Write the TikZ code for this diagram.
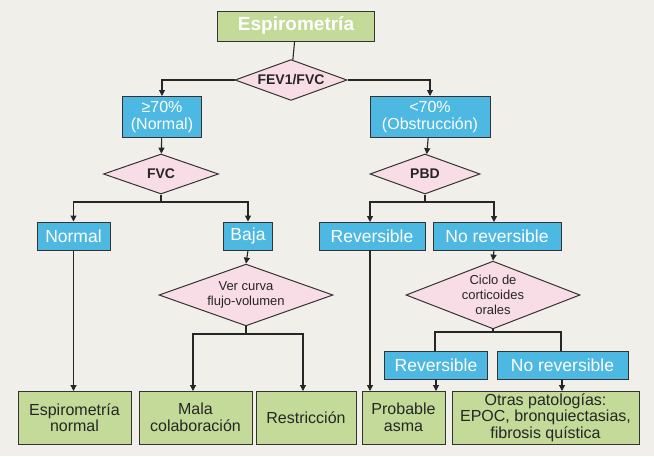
\documentclass[tikz,border=0pt]{standalone}
\usepackage{fontspec}
\setmainfont{Liberation Sans}
\usetikzlibrary{shapes.geometric,arrows.meta}
\definecolor{bg}{HTML}{F1EFEA}
\definecolor{gr}{HTML}{C3DA98}
\definecolor{bl}{HTML}{4DB9E3}
\definecolor{pk}{HTML}{F8DCE6}
\begin{document}
\begin{tikzpicture}[x=1pt,y=-1pt,
  box/.style={draw=black!80,line width=1pt,inner sep=0pt,align=center},
  gbox/.style={box,fill=gr,text=black!85,font=\fontsize{16}{16.5}\selectfont},
  bbox/.style={box,fill=bl,text=white,font=\fontsize{17.5}{18}\selectfont},
  dia/.style={diamond,aspect=2.2,draw=black!80,line width=1pt,fill=pk,inner sep=0pt,align=center,text=black!85},
  con/.style={draw=black!85,line width=1.1pt},
  arr/.style={con,-{Triangle[length=6pt,width=6pt]}}]
\fill[bg] (0,0) rectangle (654,456);
\useasboundingbox (0,0) rectangle (654,456);
\node[box,fill=gr,text=white,font=\bfseries\fontsize{19}{19}\selectfont,minimum width=157,minimum height=30] (esp) at (296,26) {Espirometría};
\node[dia,minimum width=112,minimum height=40,font=\bfseries\fontsize{14}{14}\selectfont] (fev) at (291,80) {FEV1/FVC};
\node[bbox,minimum width=79,minimum height=41,font=\fontsize{16}{16.5}\selectfont] (ge) at (162,117) {≥70\%\\(Normal)};
\node[bbox,minimum width=120,minimum height=41,font=\fontsize{16}{16.5}\selectfont] (lt) at (430,117) {<70\%\\(Obstrucción)};
\node[dia,minimum width=115,minimum height=40,font=\bfseries\fontsize{14}{14}\selectfont] (fvc) at (161,174) {FVC};
\node[dia,minimum width=110,minimum height=40,font=\bfseries\fontsize{14}{14}\selectfont] (pbd) at (425,174) {PBD};
\node[bbox,minimum width=73,minimum height=28] (nor) at (73.5,236) {Normal};
\node[bbox,minimum width=49,minimum height=28] (baja) at (248,236) {Baja};
\node[bbox,minimum width=106,minimum height=28] (rev) at (372,236) {Reversible};
\node[bbox,minimum width=128,minimum height=28] (nrev) at (497,236) {No reversible};
\node[dia,minimum width=174,minimum height=61,font=\fontsize{13}{15}\selectfont] (ver) at (246,295) {Ver curva\\flujo-volumen};
\node[dia,minimum width=174,minimum height=61,font=\fontsize{13}{15}\selectfont] (cic) at (493,295) {Ciclo de\\corticoides\\orales};
\node[bbox,minimum width=103,minimum height=28] (rev2) at (436,365) {Reversible};
\node[bbox,minimum width=131,minimum height=28] (nrev2) at (562.5,365) {No reversible};
\node[gbox,minimum width=113,minimum height=53] (en) at (74.5,417.5) {Espirometría\\normal};
\node[gbox,minimum width=113,minimum height=53] (mc) at (195.5,417.5) {Mala\\colaboración};
\node[gbox,minimum width=100,minimum height=53] (res) at (306,417.5) {Restricción};
\node[gbox,minimum width=83,minimum height=53] (pa) at (403.5,417.5) {Probable\\asma};
\node[gbox,minimum width=187,minimum height=53] (ot) at (545.5,417.5) {Otras patologías:\\EPOC, bronquiectasias,\\fibrosis quística};
\draw[con] (esp) -- (fev);
\draw[arr] (fev.west) -| (ge.north);
\draw[arr] (fev.east) -| (lt.north);
\draw[arr] (ge) -- (fvc);
\draw[arr] (lt) -- (pbd);
\draw[arr] (fvc.south) -- (161,202) -| (nor.north);
\draw[arr] (fvc.south) -- (161,202) -| (baja.north);
\draw[arr] (pbd.south) -- (425,202) -| (370,222);
\draw[arr] (pbd.south) -- (425,202) -| (494,222);
\draw[arr] (baja.south) -- (ver.north);
\draw[arr] (494,250) -- (cic.north);
\draw[arr] (ver.south) -- (246,334) -| (193,391);
\draw[arr] (ver.south) -- (246,334) -| (303,391);
\draw[con] (cic.south) -- (493,332) -| (435,351);
\draw[con] (cic.south) -- (493,332) -| (561,351);
\draw[arr] (nor.south) -- (73.5,391);
\draw[arr] (370,250) -- (370,391);
\draw[arr] (rev2.south) -- (436,391);
\draw[arr] (562,379) -- (562,391);
\end{tikzpicture}
\end{document}
